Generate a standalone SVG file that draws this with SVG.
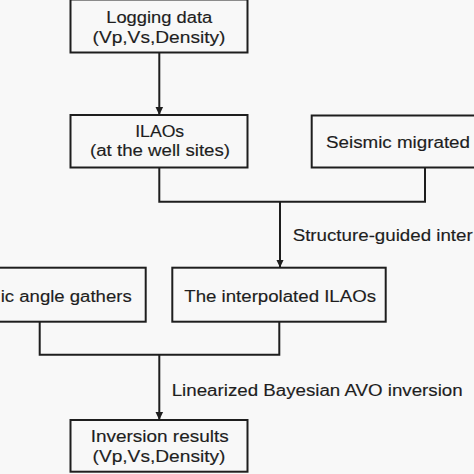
<svg xmlns="http://www.w3.org/2000/svg" width="474" height="474" viewBox="0 0 474 474">
  <defs>
    <marker id="arr" markerUnits="userSpaceOnUse" markerWidth="8" markerHeight="10" viewBox="0 0 8 10" refX="8" refY="5" orient="auto">
      <path d="M0,1.2 L8,5 L0,8.8 Z" fill="#1e1e1e"/>
    </marker>
  </defs>
  <style>
    .box { fill: none; stroke: #1e1e1e; stroke-width: 2; }
    .t { font-family: "Liberation Sans", Arial, sans-serif; font-size: 16px; fill: #1e1e1e; stroke: #1e1e1e; stroke-width: 0.15; }
    .c { text-anchor: middle; }
    .e { text-anchor: end; }
    .con { fill: none; stroke: #1e1e1e; stroke-width: 2; }
  </style>
  <rect width="474" height="474" fill="#f8f8f8"/>

  <g id="connectors">
    <line class="con" x1="159.3" y1="52.7" x2="159.3" y2="115" marker-end="url(#arr)"/>
    <path class="con" d="M159.3 167.7 V201.7 H425 V167.7"/>
    <line class="con" x1="280" y1="201.7" x2="280" y2="267.5" marker-end="url(#arr)"/>
    <text class="t" x="292.7" y="240.7" textLength="180" lengthAdjust="spacingAndGlyphs">Structure-guided inter</text>
    <path class="con" d="M39.7 321.7 V354.7 H279.3 V321.7"/>
    <line class="con" x1="159.3" y1="354.7" x2="159.3" y2="420" marker-end="url(#arr)"/>
    <text class="t" x="171.7" y="396" textLength="291" lengthAdjust="spacingAndGlyphs">Linearized Bayesian AVO inversion</text>
  </g>

  <g id="logging-data">
    <rect class="box" x="70.5" y="-0.5" width="177" height="53"/>
    <text class="t c" x="159.2" y="22.7" textLength="106" lengthAdjust="spacingAndGlyphs">Logging data</text>
    <text class="t c" x="159" y="43.3" textLength="133" lengthAdjust="spacingAndGlyphs">(Vp,Vs,Density)</text>
  </g>

  <g id="ilaos-well">
    <rect class="box" x="70.5" y="115" width="177" height="52.5"/>
    <text class="t c" x="159.7" y="137.3" textLength="49" lengthAdjust="spacingAndGlyphs">ILAOs</text>
    <text class="t c" x="160" y="155.7" textLength="140" lengthAdjust="spacingAndGlyphs">(at the well sites)</text>
  </g>

  <g id="seismic-migrated">
    <rect class="box" x="311.7" y="115.5" width="175" height="52"/>
    <text class="t" x="326" y="148.3" textLength="144" lengthAdjust="spacingAndGlyphs">Seismic migrated</text>
  </g>

  <g id="angle-gathers">
    <rect class="box" x="-10" y="267.7" width="155.7" height="54"/>
    <text class="t e" x="131.7" y="301.7" textLength="131" lengthAdjust="spacingAndGlyphs">ic angle gathers</text>
  </g>

  <g id="interpolated-ilaos">
    <rect class="box" x="172.3" y="267.7" width="213.4" height="54"/>
    <text class="t" x="184.3" y="301.7" textLength="191.7" lengthAdjust="spacingAndGlyphs">The interpolated ILAOs</text>
  </g>

  <g id="inversion-results">
    <rect class="box" x="70.5" y="420" width="177" height="51.7"/>
    <text class="t c" x="159.7" y="441.7" textLength="138" lengthAdjust="spacingAndGlyphs">Inversion results</text>
    <text class="t c" x="159" y="461.7" textLength="133" lengthAdjust="spacingAndGlyphs">(Vp,Vs,Density)</text>
  </g>
</svg>
